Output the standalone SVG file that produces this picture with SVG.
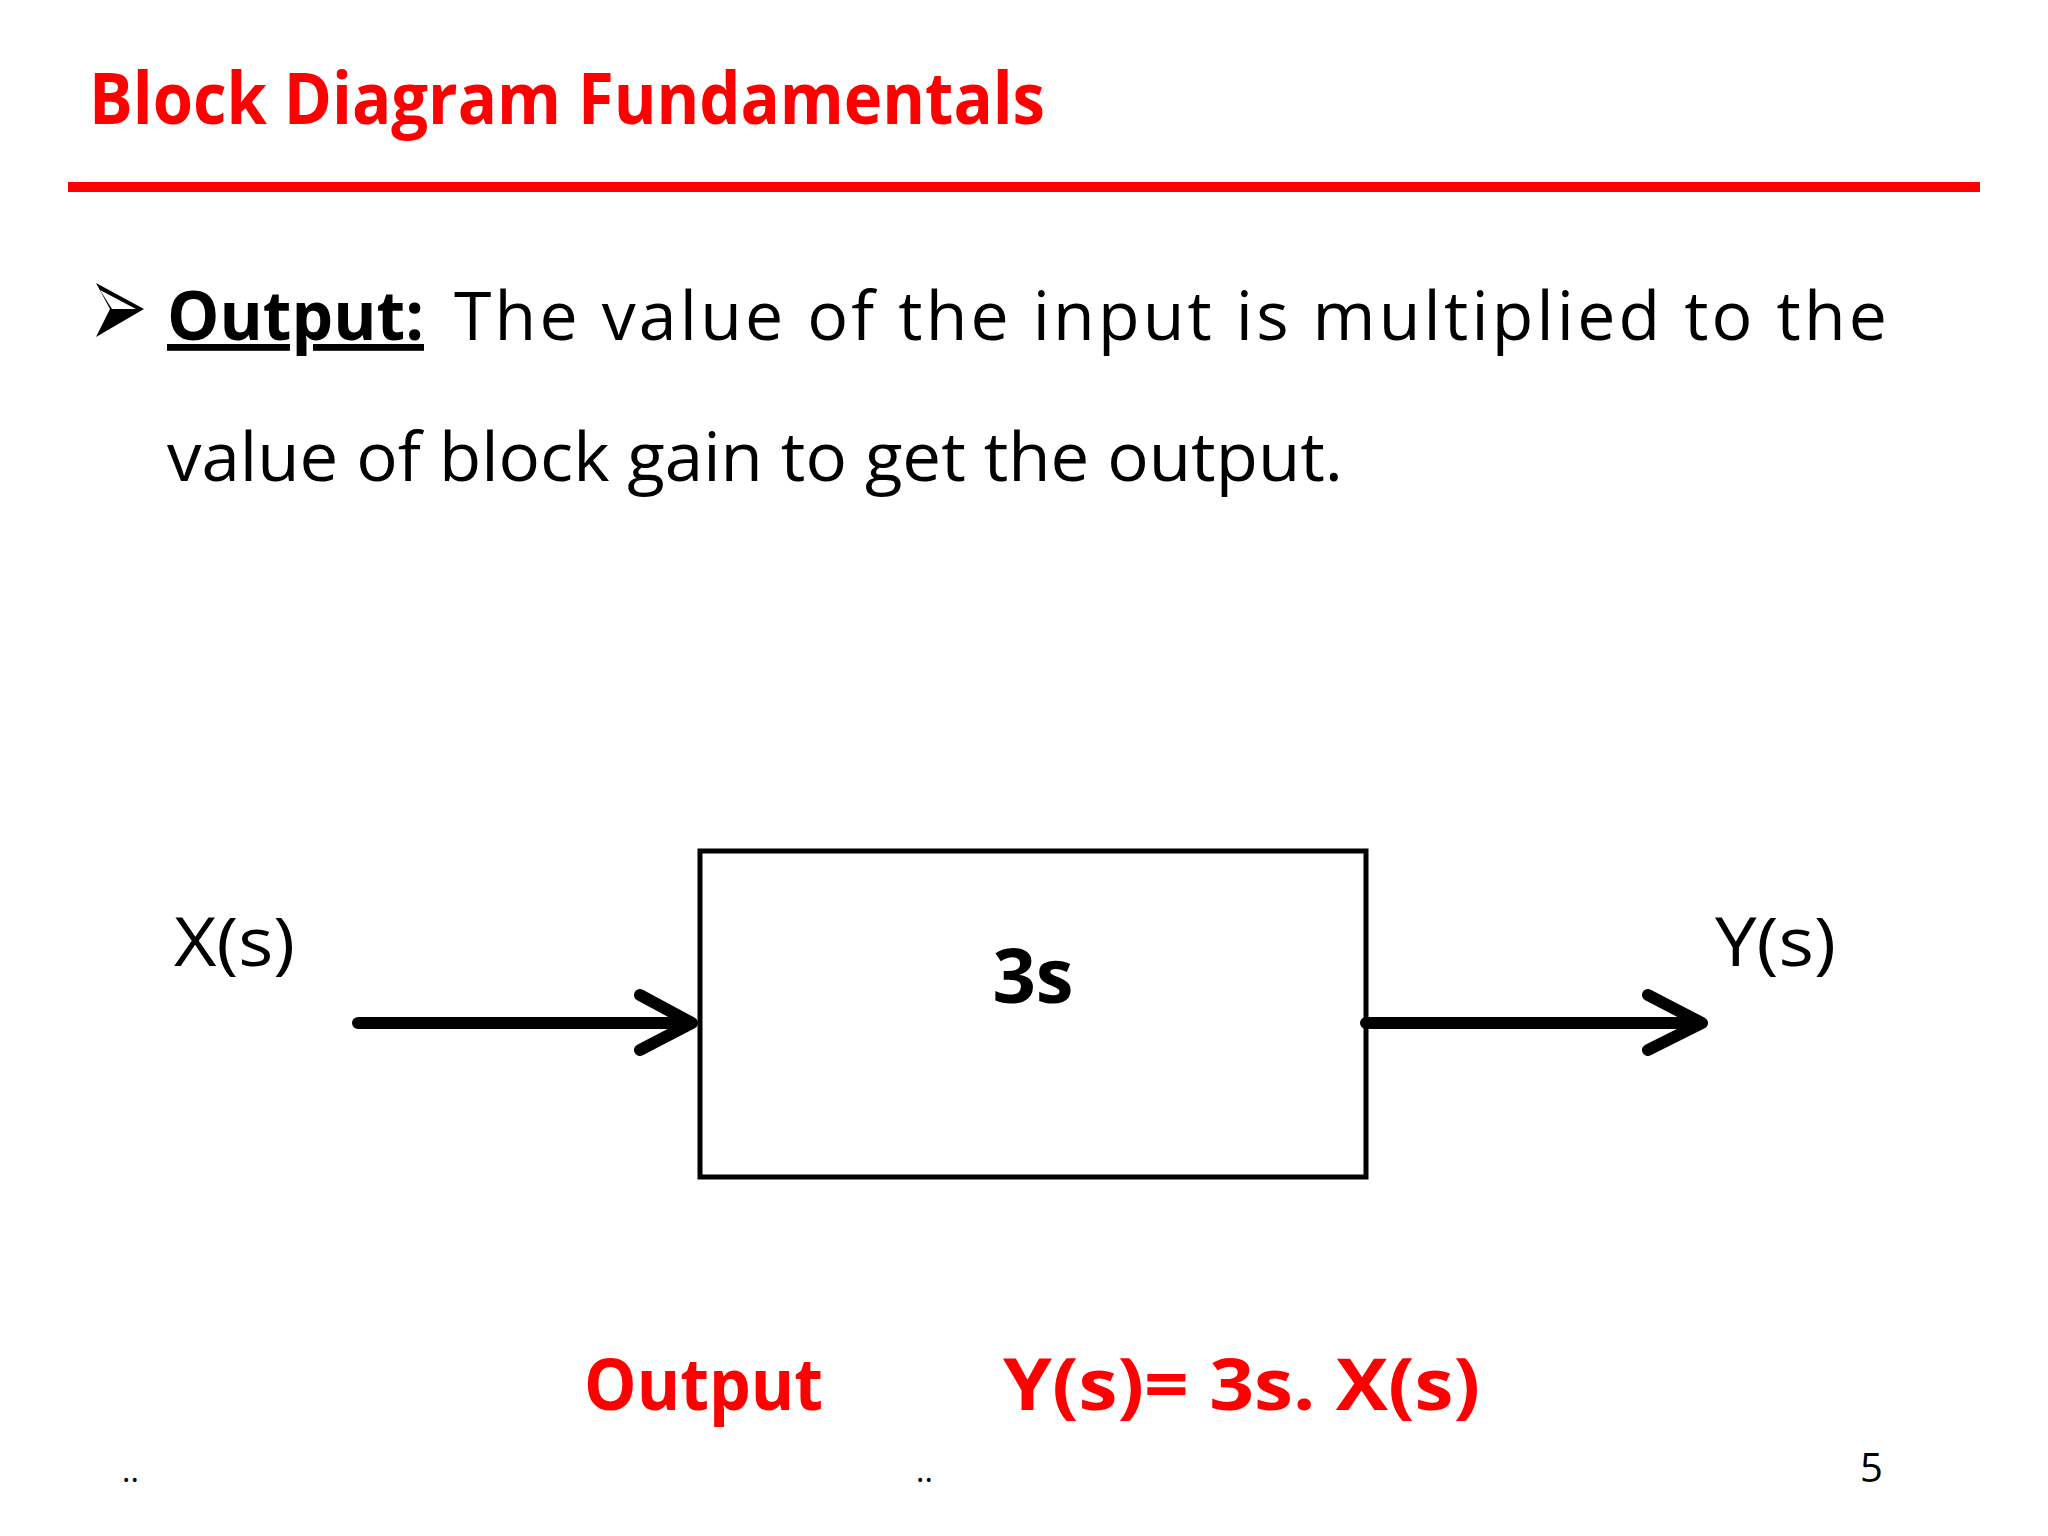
<svg xmlns="http://www.w3.org/2000/svg" width="2048" height="1536" viewBox="0 0 2048 1536">
<style>
text{font-family:"Open Sans","Liberation Sans",sans-serif;}
.red{fill:#ff0000;font-weight:bold;}
.blk{fill:#000;}
.conn{stroke:#000;stroke-width:12;fill:none;stroke-linecap:round;stroke-linejoin:round;}
</style>
<rect width="2048" height="1536" fill="#fff"/>
<text x="89" y="124" font-size="72" class="red" textLength="956" lengthAdjust="spacingAndGlyphs">Block Diagram Fundamentals</text>
<rect x="68" y="182" width="1912" height="10" fill="#ff0000"/>
<g id="bullet">
<polygon points="96,283 144,309 96,337 110,309" fill="#000"/>
<polygon points="100,290 136,309 112,309" fill="#fff"/>
</g>
<text x="167" y="340" font-size="68" font-weight="bold" text-decoration="underline" class="blk" textLength="257" lengthAdjust="spacingAndGlyphs">Output:</text>
<text x="454" y="340" font-size="68" class="blk" textLength="1433" lengthAdjust="spacing">The value of the input is multiplied to the</text>
<text x="167" y="481" font-size="68" class="blk" textLength="1176" lengthAdjust="spacingAndGlyphs">value of block gain to get the output.</text>
<g id="block">
<rect x="700" y="851" width="666" height="326" fill="#fff" stroke="#000" stroke-width="5"/>
<text x="1033" y="1003" font-size="76" font-weight="bold" text-anchor="middle" class="blk">3s</text>
</g>
<g id="xs"><text x="174" y="966" font-size="68" class="blk" textLength="121" lengthAdjust="spacingAndGlyphs">X(s)</text></g>
<g id="ys"><text x="1715" y="966" font-size="68" class="blk" textLength="121" lengthAdjust="spacingAndGlyphs">Y(s)</text></g>
<g id="connectors">
<path class="conn" d="M358 1023 H690 M640 995 L692 1023 L640 1050"/>
<path class="conn" d="M1366 1023 H1698 M1648 995 L1702 1023 L1648 1050"/>
</g>
<text x="584" y="1410" font-size="72" class="red" textLength="239" lengthAdjust="spacingAndGlyphs">Output</text>
<text x="1003" y="1410" font-size="72" class="red" textLength="477" lengthAdjust="spacingAndGlyphs">Y(s)= 3s. X(s)</text>
<text x="122" y="1482" font-size="32" class="blk">..</text>
<text x="916" y="1482" font-size="32" class="blk">..</text>
<text x="1860" y="1482" font-size="40" class="blk">5</text>
</svg>
